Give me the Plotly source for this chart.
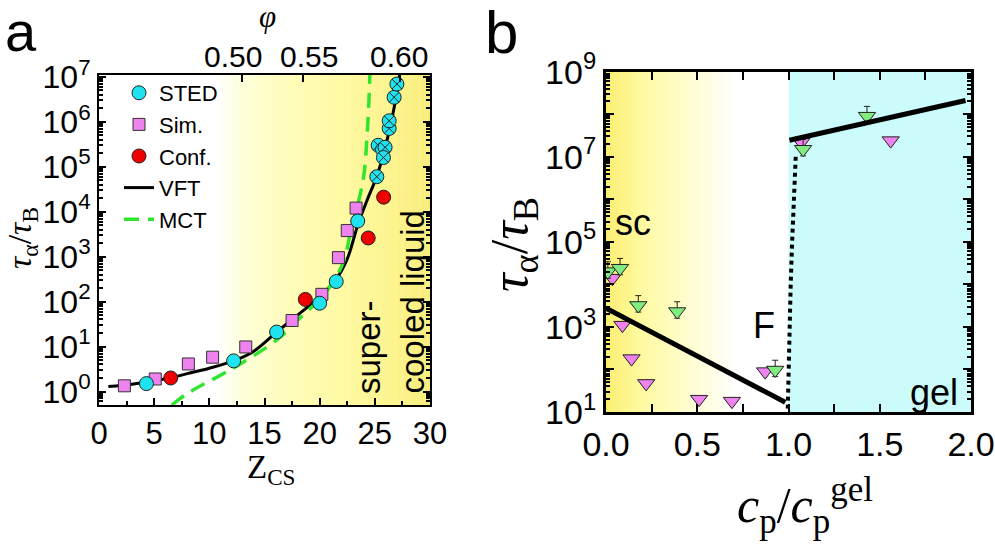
import plotly.graph_objects as go
import numpy as np

# ---------------- data: panel a ----------------
sted_z = [4.3, 12.2, 16.1, 20.0, 21.5, 23.45]
sted_tau = [1.5, 4.8, 21, 92, 280, 6200]
sted_x_z = [25.18, 25.3, 25.7, 25.93, 25.78, 26.3, 26.3, 26.75, 27.0]
sted_x_tau = [6.0e4, 3.0e5, 2.4e5, 2.7e5, 1.6e5, 7.1e5, 1.05e6, 3.5e6, 6.9e6]
sim_z = [2.3, 5.1, 8.1, 10.3, 13.3, 17.5, 20.2, 21.7, 22.5, 23.3]
sim_tau = [1.34, 1.9, 4.1, 5.8, 9.8, 38, 145, 950, 3800, 12000]
conf_z = [6.5, 18.7, 24.4, 25.8]
conf_tau = [2.0, 112, 2600, 21000]
vft_z = [0.85, 3, 5, 6.5, 8, 10, 12.2, 14, 16.1, 18, 20, 21.5, 22.5, 23.45, 24.3, 25.2, 25.8, 26.4, 26.85, 27.25]
vft_tau = [1.29, 1.45, 1.74, 2.0, 2.5, 3.3, 4.8, 7.8, 21, 50, 129, 316, 890, 5000, 1.8e4, 6.3e4, 2.0e5, 7.9e5, 2.8e6, 1.1e7]
mct_z = [6.6, 8, 11, 12.8, 16.1, 18.2, 20.5, 22.1, 22.9, 23.5, 24.0, 24.3, 24.45, 24.55]
mct_tau = [0.5, 0.9, 2.3, 4.1, 14, 43, 155, 710, 4600, 1.6e4, 6.3e4, 5e5, 2.5e6, 1.1e7]
phi_ticks = [0.50, 0.55, 0.60]
phi_labels = ["0.50", "0.55", "0.60"]
a_x_ticks = [0, 5, 10, 15, 20, 25, 30]
a_y_exps = [0, 1, 2, 3, 4, 5, 6, 7]

# ---------------- data: panel b ----------------
pink_x = [0.035, 0.09, 0.14, 0.22, 0.51, 0.69, 0.872, 1.07, 1.56]
pink_y = [14000, 1100, 180, 47, 20, 18, 89, 2.2e7, 2.4e7]
green_x = [0.01, 0.077, 0.177, 0.39, 0.927, 1.08, 1.43]
green_y = [20000, 24000, 3200, 2300, 97, 1.5e7, 9e7]
fluid_x = [0.0, 0.982]
fluid_y = [2750, 17]
gel_x = [1.005, 1.97]
gel_y = [2.45e7, 2.1e8]
jump_x = [0.996, 1.0, 1.005, 1.012, 1.02, 1.03, 1.04]
jump_y = [12, 100, 1000, 1e4, 1e5, 1e6, 1.1e7]
b_x_ticks = [0, 0.25, 0.5, 0.75, 1.0, 1.25, 1.5, 1.75, 2.0]
b_x_labels = ["0.0", "", "0.5", "", "1.0", "", "1.5", "", "2.0"]
b_y_exps = [1, 2, 3, 4, 5, 6, 7, 8, 9]

W, H = 995, 545
SANS = "Liberation Sans"
SERIF = "Liberation Serif"


def px(x):
    return x / W


def py(y):
    return 1 - y / H


def zcs(phi):
    return (1 + phi + phi ** 2 - phi ** 3) / (1 - phi) ** 3


def lerp(stops, t):
    for (t0, c0), (t1, c1) in zip(stops[:-1], stops[1:]):
        if t0 <= t <= t1:
            f = (t - t0) / (t1 - t0) if t1 > t0 else 0
            c = [round(a + (b - a) * f) for a, b in zip(c0, c1)]
            return "rgb(%d,%d,%d)" % tuple(c)
    c = stops[-1][1]
    return "rgb(%d,%d,%d)" % tuple(c)


fig = go.Figure()

# ---------- panel a traces ----------
fig.add_trace(go.Scatter(x=vft_z, y=vft_tau, mode="lines", line=dict(color="black", width=3, shape="spline"),
                         name="VFT", xaxis="x", yaxis="y", legendrank=4))
fig.add_trace(go.Scatter(x=mct_z, y=mct_tau, mode="lines",
                         line=dict(color="#2ee62e", width=3.5, dash="15px,9px", shape="spline"),
                         name="MCT", xaxis="x", yaxis="y", legendrank=5))
fig.add_trace(go.Scatter(x=sim_z, y=sim_tau, mode="markers",
                         marker=dict(symbol="square", size=12, color="#ee82ee", line=dict(color="#333", width=1)),
                         name="Sim.", xaxis="x", yaxis="y", legendrank=2))
fig.add_trace(go.Scatter(x=sted_z, y=sted_tau, mode="markers",
                         marker=dict(symbol="circle", size=14, color="#1ee3ee", line=dict(color="#222", width=1)),
                         name="STED", xaxis="x", yaxis="y", legendrank=1))
fig.add_trace(go.Scatter(x=sted_x_z, y=sted_x_tau, mode="markers",
                         marker=dict(symbol="circle-x", size=14, color="#1ee3ee", line=dict(color="#222", width=1)),
                         showlegend=False, xaxis="x", yaxis="y"))
fig.add_trace(go.Scatter(x=conf_z, y=conf_tau, mode="markers",
                         marker=dict(symbol="circle", size=14, color="#ee0000", line=dict(color="#222", width=1)),
                         name="Conf.", xaxis="x", yaxis="y", legendrank=3))
# invisible trace so the top (phi) axis gets drawn
fig.add_trace(go.Scatter(x=[zcs(p) for p in phi_ticks], y=[1, 1, 1], mode="markers",
                         marker=dict(opacity=0), showlegend=False, hoverinfo="skip",
                         xaxis="x3", yaxis="y"))

# ---------- panel b traces ----------
fig.add_trace(go.Scatter(x=pink_x, y=pink_y, mode="markers",
                         marker=dict(symbol="triangle-down", size=15, color="#ee82ee", line=dict(color="#222", width=1)),
                         showlegend=False, xaxis="x2", yaxis="y2"))
fig.add_trace(go.Scatter(x=green_x, y=green_y, mode="markers",
                         marker=dict(symbol="triangle-down", size=15, color="#80ec80", line=dict(color="#222", width=1)),
                         error_y=dict(type="percent", symmetric=False, value=70, valueminus=30, thickness=1,
                                      width=3, color="#222"),
                         showlegend=False, xaxis="x2", yaxis="y2"))
fig.add_trace(go.Scatter(x=fluid_x, y=fluid_y, mode="lines", line=dict(color="black", width=5),
                         showlegend=False, xaxis="x2", yaxis="y2"))
fig.add_trace(go.Scatter(x=gel_x, y=gel_y, mode="lines", line=dict(color="black", width=5),
                         showlegend=False, xaxis="x2", yaxis="y2"))
fig.add_trace(go.Scatter(x=jump_x, y=jump_y, mode="lines", line=dict(color="black", width=4, dash="dot"),
                         showlegend=False, xaxis="x2", yaxis="y2"))

# ---------- background gradients ----------
shapes = []
stops_a = [(10.7, (255, 255, 255)), (13, (255, 255, 218)), (17, (255, 253, 185)), (22, (255, 250, 162)),
           (27, (252, 243, 138)), (30, (248, 236, 122))]
n = 80
xs = np.linspace(10.7, 30, n + 1)
for i in range(n):
    shapes.append(dict(type="rect", xref="x", yref="y domain", x0=xs[i], x1=xs[i + 1] + 0.02, y0=0, y1=1,
                       fillcolor=lerp(stops_a, (xs[i] + xs[i + 1]) / 2), line=dict(width=0), layer="below"))
stops_b = [(0, (250, 238, 110)), (0.2, (255, 250, 160)), (0.45, (255, 253, 205)), (0.72, (255, 255, 255))]
xs = np.linspace(0, 0.72, n + 1)
for i in range(n):
    shapes.append(dict(type="rect", xref="x2", yref="y2 domain", x0=xs[i], x1=xs[i + 1] + 0.002, y0=0, y1=1,
                       fillcolor=lerp(stops_b, (xs[i] + xs[i + 1]) / 2), line=dict(width=0), layer="below"))
shapes.append(dict(type="rect", xref="x2", yref="y2 domain", x0=1.0, x1=2.0, y0=0, y1=1,
                   fillcolor="#ccfbfb", line=dict(width=0), layer="below"))

# ---------- axes ----------
def minor_vals(exps):
    v = []
    for e in range(min(exps) - 1, max(exps) + 1):
        for m in range(2, 10):
            v.append(m * 10.0 ** e)
    return v


tickfont_a = dict(family=SANS, size=31, color="black")
tickfont_ay = dict(family=SANS, size=32, color="black")
tickfont_b = dict(family=SANS, size=34, color="black")

fig.update_layout(
    width=W, height=H, margin=dict(l=0, r=0, t=0, b=0, autoexpand=False),
    paper_bgcolor="white", plot_bgcolor="rgba(0,0,0,0)",
    shapes=shapes,
    showlegend=True,
    legend=dict(x=px(119), y=py(72), xanchor="left", yanchor="top", bgcolor="rgba(0,0,0,0)",
                font=dict(family=SANS, size=22, color="black"), traceorder="normal", tracegroupgap=0),
    xaxis=dict(domain=[px(99), px(430)], range=[0, 30], tickvals=a_x_ticks, ticks="inside", ticklen=7,
               tickwidth=1.5, tickcolor="black", showline=True, linecolor="black", linewidth=2, mirror=True,
               showgrid=False, zeroline=False, tickfont=tickfont_a, anchor="y", automargin=False,
               minor=dict(ticks="inside", ticklen=4, dtick=2.5, tick0=0, tickcolor="black", showgrid=False)),
    xaxis3=dict(overlaying="x", side="top", range=[0, 30], tickvals=[zcs(p) for p in phi_ticks],
                ticktext=["", "", ""], ticks="inside", ticklen=7, tickwidth=1.5, automargin=False,
                tickcolor="black", showline=False, showgrid=False, zeroline=False, anchor="y"),
    yaxis=dict(domain=[py(405), py(75)], type="log", range=[-0.3, 7.04], automargin=False,
               tickvals=[10.0 ** e for e in a_y_exps], ticktext=["10<sup>%d</sup>" % e for e in a_y_exps],
               ticks="inside", ticklen=7, tickwidth=1.5, tickcolor="black", showline=True, linecolor="black",
               linewidth=2, mirror="ticks", showgrid=False, zeroline=False, tickfont=tickfont_ay, anchor="x",
               minor=dict(ticks="inside", ticklen=4, tickvals=minor_vals(a_y_exps), tickcolor="black",
                          showgrid=False)),
    xaxis2=dict(domain=[px(606), px(971)], range=[0, 2], tickvals=b_x_ticks, ticktext=b_x_labels,
                ticks="inside", ticklen=8, tickwidth=1.5, tickcolor="black", showline=True, linecolor="black",
                linewidth=3, mirror="ticks", showgrid=False, zeroline=False, tickfont=tickfont_b, anchor="y2",
                automargin=False),
    yaxis2=dict(domain=[py(412), py(71.7)], type="log", range=[1, 9], automargin=False,
                tickvals=[10.0 ** e for e in b_y_exps],
                ticktext=["10<sup>%d</sup>" % e if e % 2 == 1 else "" for e in b_y_exps],
                ticks="inside", ticklen=8, tickwidth=1.5, tickcolor="black", showline=True, linecolor="black",
                linewidth=3, mirror="ticks", showgrid=False, zeroline=False, tickfont=tickfont_b, anchor="x2",
                minor=dict(ticks="inside", ticklen=4, tickvals=minor_vals(b_y_exps), tickcolor="black",
                           showgrid=False)),
)

# ---------- annotations ----------
ann = []


def add_text(text, x, y, size, family=SANS, angle=0, xanchor="center", yanchor="middle"):
    ann.append(dict(text=text, x=px(x), y=py(y), xref="paper", yref="paper", showarrow=False,
                    font=dict(family=family, size=size, color="black"), textangle=angle,
                    xanchor=xanchor, yanchor=yanchor))


add_text("a", 3, -2, 56, xanchor="left", yanchor="top")
add_text("b", 483, -3, 60, xanchor="left", yanchor="top")
add_text("<i>φ</i>", 267, -3, 31, family=SERIF, yanchor="top")
for lab, xp in zip(phi_labels, [233, 309, 399]):
    add_text(lab, xp, 56, 30)
add_text("Z<sub>CS</sub>", 271, 469, 33, family=SERIF)
add_text("<i>τ</i><sub>α</sub>/<i>τ</i><sub>B</sub>", 22, 238, 34, family=SERIF, angle=-90)
add_text("<i>τ</i><sub>α</sub>/<i>τ</i><sub>B</sub>", 514, 245, 52, family=SERIF, angle=-90)
add_text("<i>c</i><sub>p</sub>/<i>c</i><sub>p</sub><sup>gel</sup>", 805, 505, 50, family=SERIF)
add_text("super-", 368, 396, 33, angle=-90, yanchor="bottom")
add_text("cooled liquid", 412, 396, 33, angle=-90, yanchor="bottom")
add_text("sc", 633, 222, 36)
add_text("F", 764, 325, 36)
add_text("gel", 934, 392, 36)
fig.update_layout(annotations=ann)

fig.write_html("out.html")
